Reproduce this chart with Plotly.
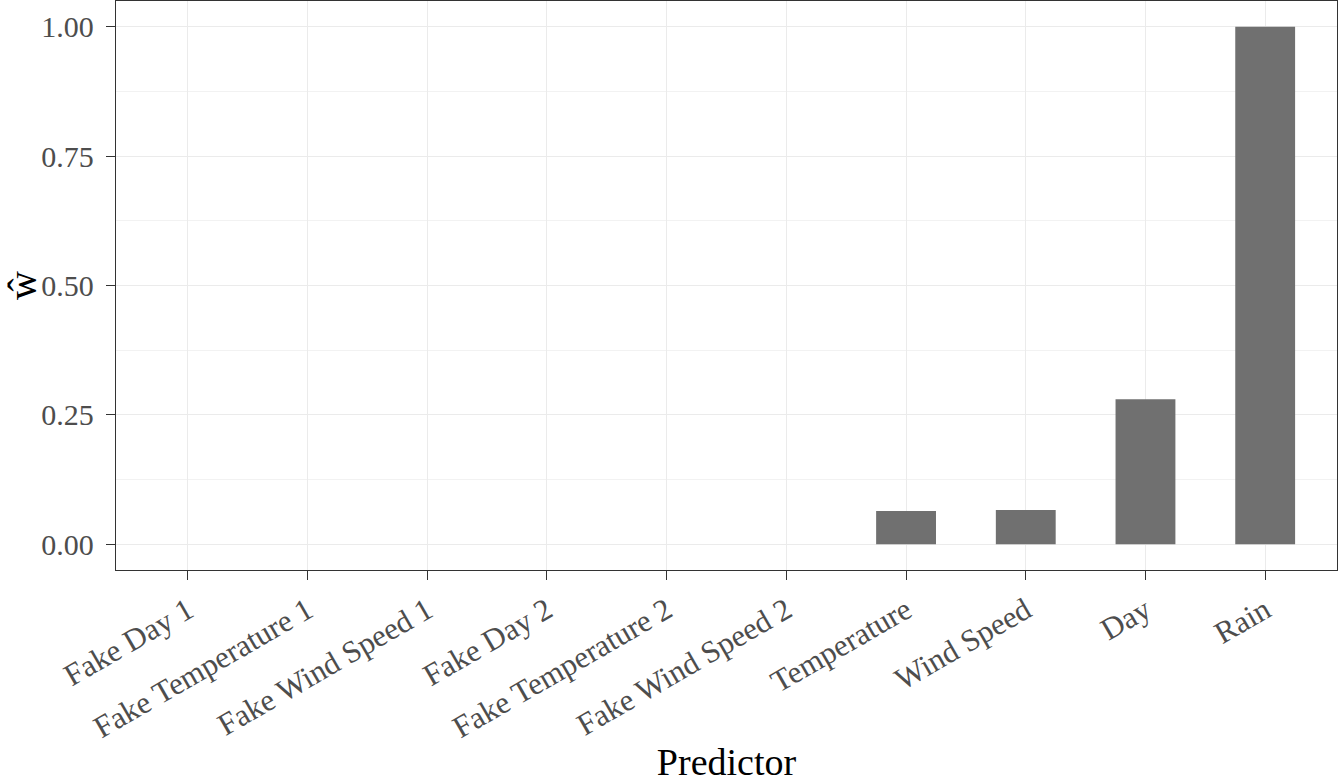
import plotly.graph_objects as go

# ── データ ──────────────────────────────────────────────
predictors = ['Fake Day 1', 'Fake Temperature 1', 'Fake Wind Speed 1',
              'Fake Day 2', 'Fake Temperature 2', 'Fake Wind Speed 2',
              'Temperature', 'Wind Speed', 'Day', 'Rain']
w_hat = [0.0, 0.0, 0.0, 0.0, 0.0, 0.0, 0.064, 0.066, 0.28, 1.0]
y_ticks = [0.0, 0.25, 0.5, 0.75, 1.0]

FONT = 'Liberation Serif'
BORDER = '#333333'
GRID = '#EBEBEB'

fig = go.Figure(go.Bar(
    x=predictors,
    y=w_hat,
    marker_color='#707070',
    marker_line_width=0,
))

fig.update_layout(
    width=1339, height=783,
    margin=dict(l=116, r=2, t=1, b=213),
    plot_bgcolor='white',
    paper_bgcolor='white',
    bargap=0.5,
    showlegend=False,
    font=dict(family=FONT, color='#4D4D4D'),
)

fig.update_xaxes(
    type='category',
    range=[-0.6, 9.6],
    tickangle=-30,
    tickfont=dict(family=FONT, size=31, color='#4D4D4D'),
    ticks='outside', ticklen=9, tickwidth=1.3, tickcolor=BORDER,
    showgrid=True, gridcolor=GRID, gridwidth=1.4,
    showline=True, linecolor=BORDER, linewidth=1.3, mirror=True,
    automargin=False,
    title=dict(text='Predictor', font=dict(family=FONT, size=38, color='black'),
               standoff=23),
)

fig.update_yaxes(
    range=[-0.05, 1.05],
    tickvals=y_ticks,
    tickformat='.2f',
    tickfont=dict(family=FONT, size=30, color='#4D4D4D'),
    ticks='outside', ticklen=9, tickwidth=1.3, tickcolor=BORDER,
    ticklabelstandoff=6,
    showgrid=True, gridcolor=GRID, gridwidth=1.4,
    minor=dict(dtick=0.125, tick0=0.125, showgrid=True, gridcolor='#F2F2F2',
               gridwidth=0.8),
    zeroline=False,
    showline=True, linecolor=BORDER, linewidth=1.3, mirror=True,
    automargin=False,
    title=dict(text='ŵ', font=dict(family=FONT, size=40, color='black'),
               standoff=26),
)

# ページ余白をなくして1339x783にぴったり合わせる
fig.write_html('out.html', config={'displayModeBar': False},
               post_script="document.body.style.margin='0';")
